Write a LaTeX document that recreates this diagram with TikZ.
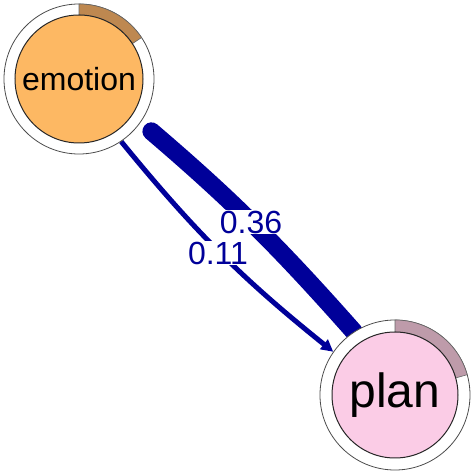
\documentclass[tikz,border=0pt]{standalone}
\usepackage{fontspec}
\setmainfont{Liberation Sans}
\usetikzlibrary{arrows.meta,backgrounds}
\definecolor{edgeblue}{RGB}{0,0,153}
\definecolor{emofill}{RGB}{253,184,99}
\definecolor{emoarc}{RGB}{190,136,80}
\definecolor{planfill}{RGB}{251,204,230}
\definecolor{planarc}{RGB}{190,155,170}
\tikzset{
 ring/.style={circle, draw=black!70, line width=0.8pt, fill=white, minimum size=150pt, inner sep=0pt},
 core/.style={circle, draw=black!85, line width=1pt, inner sep=0pt},
 piearc/.style={draw=black!60, line width=0.6pt},
 elabel/.style={fill=white, text=edgeblue, inner sep=0.5pt, font=\fontsize{32}{32}\selectfont},
 thickedge/.style={draw=edgeblue, line width=18pt, line cap=round},
 thinedge/.style={draw=edgeblue, line width=5pt, -{Triangle[length=12pt,width=12pt]}},
}
\begin{document}
\begin{tikzpicture}[x=1pt,y=1pt]
\useasboundingbox (0,0) rectangle (474,474);
% emotion
\node[ring] (emo) at (79,395) {};
\filldraw[piearc, fill=emoarc] ([shift={(90:75)}]emo.center) arc[start angle=90, end angle=33.5, radius=75] -- ([shift={(33.5:64)}]emo.center) arc[start angle=33.5, end angle=90, radius=64] -- cycle;
\node[core, fill=emofill, minimum size=128pt, font=\fontsize{32}{32}\selectfont] (emotxt) at (emo) {emotion};
% plan
\node[ring] (pl) at (395,79) {};
\filldraw[piearc, fill=planarc] ([shift={(90:75)}]pl.center) arc[start angle=90, end angle=15.7, radius=75] -- ([shift={(15.7:63)}]pl.center) arc[start angle=15.7, end angle=90, radius=63] -- cycle;
\node[core, fill=planfill, minimum size=126pt, font=\fontsize{48}{48}\selectfont] (pltxt) at (pl) {plan};
% edges
\begin{scope}[on background layer]
\draw[thickedge, shorten <=14pt] (emo.-35) to[bend left=4] (pl.123.5);
\draw[thinedge] (emo.-56) to[bend right=6] (pl.145.7);
\end{scope}
\node[elabel] (l36) at (251,252) {0.36};
\node[elabel] (l11) at (218,221) {0.11};
\end{tikzpicture}
\end{document}
